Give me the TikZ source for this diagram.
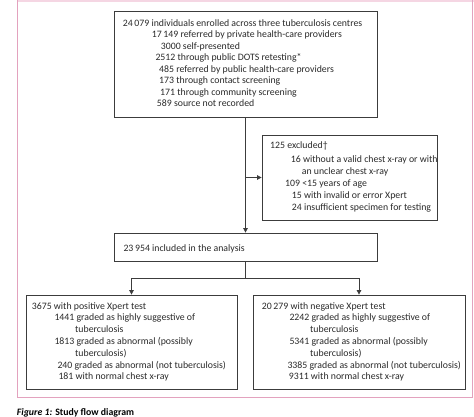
\documentclass[tikz,border=0pt]{standalone}
\usepackage{fontspec}
\setmainfont{Carlito}
\usetikzlibrary{arrows.meta}
\definecolor{framepink}{HTML}{E3A2BE}
\definecolor{toppink}{HTML}{F5D6E3}
\definecolor{boxgray}{HTML}{3C3C3C}
\definecolor{txtgray}{HTML}{2A2A2A}
\tikzset{
  box/.style={draw=boxgray, line width=0.8pt, rectangle, inner sep=0pt},
  txt/.style={anchor=base west, inner sep=0pt, font=\fontsize{9.8}{11}\selectfont, text=txtgray},
  conn/.style={draw=boxgray, line width=0.8pt},
  arr/.style={conn, -{Triangle[length=4.5pt, width=4.5pt]}},
}
\begin{document}
\begin{tikzpicture}[x=1pt,y=-1pt]
\useasboundingbox (0,0) rectangle (474,417);
\fill[white] (0,0) rectangle (474,417);
% frame
\fill[toppink] (17,0) rectangle (473.5,2.2);
\draw[framepink, line width=1.5pt] (17.5,0) -- (17.5,397.5) -- (472.7,397.5) -- (472.7,0);

% boxes
\node[box, minimum width=263pt, minimum height=106pt] (enrol) at (245.5,64) {};
\node[box, minimum width=175pt, minimum height=85pt] (excl) at (349.5,177.5) {};
\node[box, minimum width=263pt, minimum height=28pt] (incl) at (245.5,247) {};
\node[box, minimum width=211pt, minimum height=94pt] (pos) at (131.5,342) {};
\node[box, minimum width=212pt, minimum height=94pt] (neg) at (359,342) {};

% connectors
\coordinate (branch) at (enrol.south |- excl.west);
\coordinate (split) at (245.5,278);
\draw[conn] (enrol.south) -- (branch);
\draw[arr] (branch) -- (excl.west);
\draw[arr] (branch) -- (incl.north);
\draw[conn] (incl.south) -- (split);
\draw[arr] (split) -| (pos.north);
\draw[arr] (split) -| (neg.north);

% enrolment text
\node[txt] (e1) at (122.7,26.5) {24\,079 individuals enrolled across three tuberculosis centres};
\node[txt] (e2) at (151.7,37.9) {17\,149 referred by private health-care providers};
\node[txt] (e3) at (160.7,49.4) {3000 self-presented};
\node[txt] (e4) at (155.3,60.8) {2512 through public DOTS retesting*};
\node[txt] (e5) at (159,72.2) {485 referred by public health-care providers};
\node[txt] (e6) at (159,83.7) {173 through contact screening};
\node[txt] (e7) at (160,95.1) {171 through community screening};
\node[txt] (e8) at (156.7,106.5) {589 source not recorded};

% exclusion text
\node[txt] (x1) at (270,148.3) {125 excluded\textdagger};
\node[txt] (x2) at (290.7,162.5) {16 without a valid chest x-ray or with};
\node[txt] (x3) at (301.7,174.7) {an unclear chest x-ray};
\node[txt] (x4) at (285,186.6) {109 <15 years of age};
\node[txt] (x5) at (291.7,198.4) {15 with invalid or error Xpert};
\node[txt] (x6) at (291.7,210.2) {24 insufficient specimen for testing};

% included
\node[txt] (i1) at (123.3,251.2) {23\,954 included in the analysis};

% positive
\node[txt] (p1) at (31.7,309.2) {3675 with positive Xpert test};
\node[txt] (p2) at (54.3,320.9) {1441 graded as highly suggestive of};
\node[txt] (p3) at (75,332.6) {tuberculosis};
\node[txt] (p4) at (54.3,344.6) {1813 graded as abnormal (possibly};
\node[txt] (p5) at (75,356.4) {tuberculosis)};
\node[txt] (p6) at (57.3,368.2) {240 graded as abnormal (not tuberculosis)};
\node[txt] (p7) at (58.3,379.9) {181 with normal chest x-ray};

% negative
\node[txt] (n1) at (261.7,309.2) {20\,279 with negative Xpert test};
\node[txt] (n2) at (289.3,320.9) {2242 graded as highly suggestive of};
\node[txt] (n3) at (310,332.6) {tuberculosis};
\node[txt] (n4) at (289.3,344.6) {5341 graded as abnormal (possibly};
\node[txt] (n5) at (310,356.4) {tuberculosis)};
\node[txt] (n6) at (287.3,368.2) {3385 graded as abnormal (not tuberculosis)};
\node[txt] (n7) at (288.7,379.9) {9311 with normal chest x-ray};

% caption
\node[anchor=base west, inner sep=0pt, font=\fontsize{9.8}{11}\selectfont\bfseries, text=black] (cap) at (16.7,415.3) {\textit{Figure 1:} Study flow diagram};
\end{tikzpicture}
\end{document}
